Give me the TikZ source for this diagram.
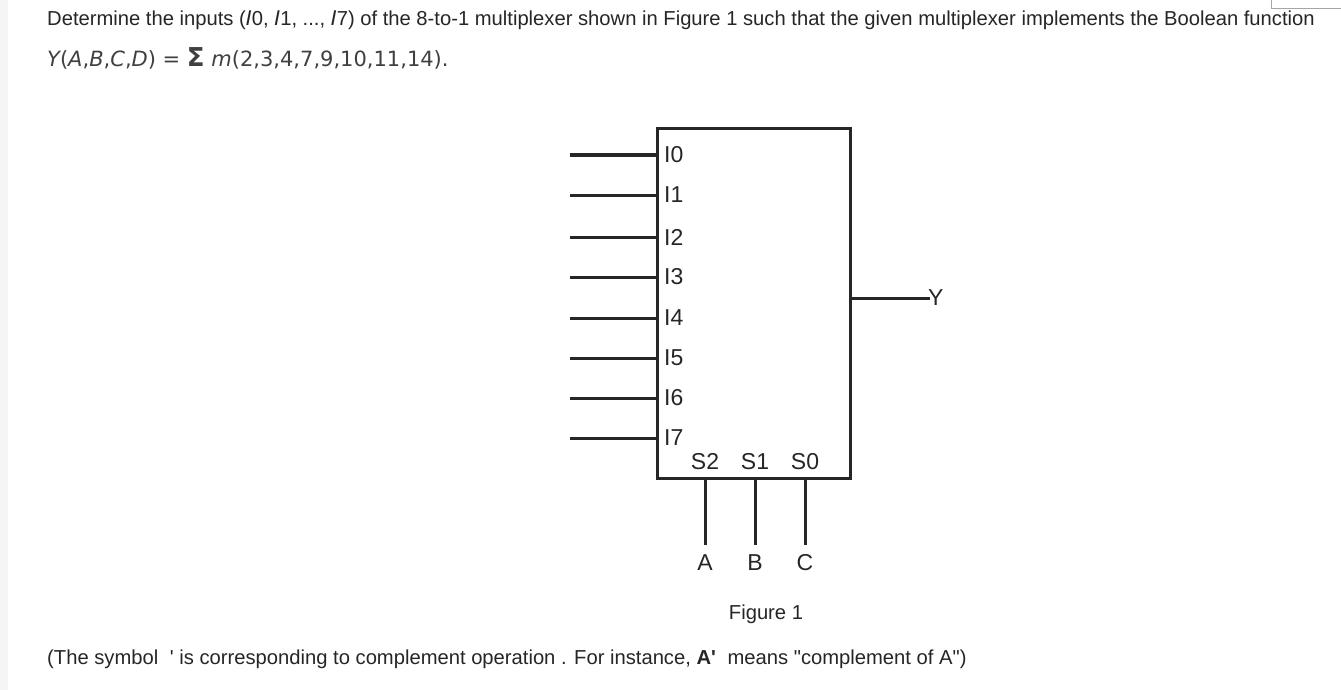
\documentclass[tikz,border=0pt]{standalone}
\usepackage{fontspec}
\setmainfont{Liberation Sans}
\newfontfamily\mathlike{DejaVu Sans}
\begin{document}
\begin{tikzpicture}[x=1pt,y=-1pt,
  wire/.style={line width=3pt,black!85},
  lbl/.style={inner sep=0pt,font=\fontsize{23}{23}\selectfont,text=black!85},
  txt/.style={inner sep=0pt,anchor=west,font=\fontsize{20.2}{22}\selectfont,text=black!85}]
\useasboundingbox[fill=white] (0,0) rectangle (1341,690);
\fill[black!4] (0,0) rectangle (8,690);
\draw[black!35,line width=1pt] (1271,-2) -- (1271,9) -- (1343,9);
\node[txt] (t1) at (47,20) {Determine the inputs ({\mathlike\itshape I}0, {\mathlike\itshape I}1, ..., {\mathlike\itshape I}7) of the 8-to-1 multiplexer shown in Figure 1 such that the given multiplexer implements the Boolean function};
\node[txt,font=\fontsize{21}{22}\selectfont,text=black!75] (t2) at (47,58) {\mathlike\itshape Y\upshape(\itshape A\upshape,\itshape B\upshape,\itshape C\upshape,\itshape D\upshape) = {\fontsize{26}{26}\selectfont\bfseries Σ} \itshape m\upshape(2,3,4,7,9,10,11,14).};
\node[draw,line width=3pt,black!85,minimum width=193pt,minimum height=350pt,anchor=north west,inner sep=0pt] (mux) at (656,127) {};
\foreach \i/\y in {0/155,1/195,2/237,3/277,4/318,5/358,6/398,7/438}{
  \coordinate (in\i) at (570,\y);
  \coordinate (pin\i) at (656,\y);
  \draw[wire] (in\i) -- (pin\i);
  \node[lbl,anchor=west] (l\i) at (664,\y) {I\i};
}
\coordinate (yout) at (849,298);
\coordinate (yend) at (930,298);
\draw[wire] (yout) -- (yend);
\node[lbl,anchor=west] (Y) at (928,298) {Y};
\foreach \n/\x/\s in {A/705/S2,B/755/S1,C/805/S0}{
  \coordinate (s\n) at (\x,477);
  \coordinate (e\n) at (\x,545);
  \draw[wire] (s\n) -- (e\n);
  \node[lbl] (sl\n) at (\x,462) {\s};
  \node[lbl] (nl\n) at (\x,563) {\n};
}
\node[txt,anchor=center] (fig) at (766,614) {Figure 1};
\node[txt] (t3) at (47,659) {(The symbol \hspace{6pt}\textquotesingle{} is corresponding to complement operation . For instance, \textbf{A\textquotesingle}\hspace{6pt} means \textquotedbl complement of A\textquotedbl)};
\end{tikzpicture}
\end{document}
